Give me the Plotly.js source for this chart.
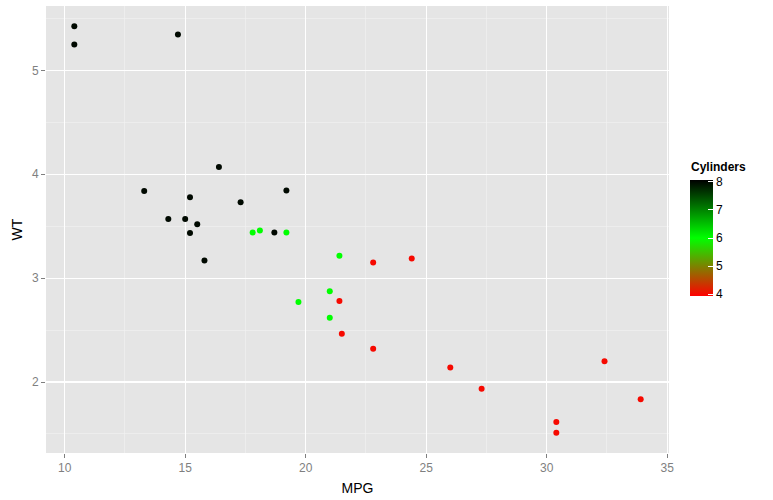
<!DOCTYPE html>
<html>
<head>
<meta charset="utf-8">
<script src="https://cdn.plot.ly/plotly-3.0.1.min.js"></script>
<style>html,body{margin:0;padding:0;background:#fff;}#chart{width:773px;height:500px;}</style>
</head>
<body>
<div id="chart"></div>
<script>
// mtcars: mpg, wt, cyl
const mpg = [21.0,21.0,22.8,21.4,18.7,18.1,14.3,24.4,22.8,19.2,17.8,16.4,17.3,15.2,10.4,10.4,14.7,32.4,30.4,33.9,21.5,15.5,15.2,13.3,19.2,27.3,26.0,30.4,15.8,19.7,15.0,21.4];
const wt = [2.620,2.875,2.320,3.215,3.440,3.460,3.570,3.190,3.150,3.440,3.440,4.070,3.730,3.780,5.250,5.424,5.345,2.200,1.615,1.835,2.465,3.520,3.435,3.840,3.845,1.935,2.140,1.513,3.170,2.770,3.570,2.780];
const cyl = [6,6,4,6,8,6,8,4,4,6,6,8,8,8,8,8,8,4,4,4,4,8,8,8,8,4,4,4,8,6,8,4];
const cylTicks = [4,5,6,7,8];

const trace = {
  type: 'scatter', mode: 'markers', x: mpg, y: wt,
  marker: {
    size: 6, color: cyl, cmin: 3.93, cmax: 8.07,
    colorscale: [[0,'#FF0000'],[0.5,'#00FF00'],[1,'#000000']],
    line: {width: 0},
    colorbar: {
      x: 1.033, xanchor: 'left', y: 0.6107, yanchor: 'top',
      thickness: 23, thicknessmode: 'pixels', len: 116, lenmode: 'pixels',
      outlinewidth: 0, ypad: 0, xpad: 0,
      tickvals: cylTicks, ticktext: cylTicks.map(String),
      ticks: 'inside', ticklen: 5, tickcolor: '#FFFFFF', tickwidth: 1,
      tickfont: {size: 12, color: '#000', family: 'Liberation Sans, Arial, sans-serif'}
    }
  },
  hoverinfo: 'x+y'
};

const axisCommon = {
  showline: false, zeroline: false,
  gridcolor: '#FFFFFF', gridwidth: 1.2,
  ticks: 'outside', ticklen: 4, tickcolor: '#7F7F7F', tickwidth: 1,
  tickfont: {size: 12, color: '#7F7F7F', family: 'Liberation Sans, Arial, sans-serif'}
};

const layout = {
  width: 773, height: 500,
  margin: {l: 46, r: 103.5, t: 6, b: 47},
  paper_bgcolor: '#FFFFFF', plot_bgcolor: '#E5E5E5',
  showlegend: false,
  font: {family: 'Liberation Sans, Arial, sans-serif'},
  xaxis: Object.assign({}, axisCommon, {
    range: [9.225, 35.075], tickmode: 'linear', tick0: 10, dtick: 5,
    minor: {showgrid: true, dtick: 2.5, tick0: 10, gridcolor: '#F2F2F2', gridwidth: 0.6, ticks: ''},
    title: {text: 'MPG', font: {size: 14, color: '#000'}, standoff: 8}
  }),
  yaxis: Object.assign({}, axisCommon, {
    range: [1.317, 5.620], tickmode: 'linear', tick0: 2, dtick: 1,
    minor: {showgrid: true, dtick: 0.5, tick0: 1.5, gridcolor: '#F2F2F2', gridwidth: 0.6, ticks: ''},
    title: {text: 'WT', font: {size: 14, color: '#000'}, standoff: 6}
  }),
  annotations: [{
    text: '<b>Cylinders</b>', showarrow: false,
    xref: 'paper', yref: 'paper', x: 1.033, y: 0.623, xanchor: 'left', yanchor: 'bottom',
    font: {size: 12, color: '#000', family: 'Liberation Sans, Arial, sans-serif'},
    borderpad: 0
  }]
};

Plotly.newPlot('chart', [trace], layout, {displayModeBar: false, staticPlot: true});
</script>
</body>
</html>
